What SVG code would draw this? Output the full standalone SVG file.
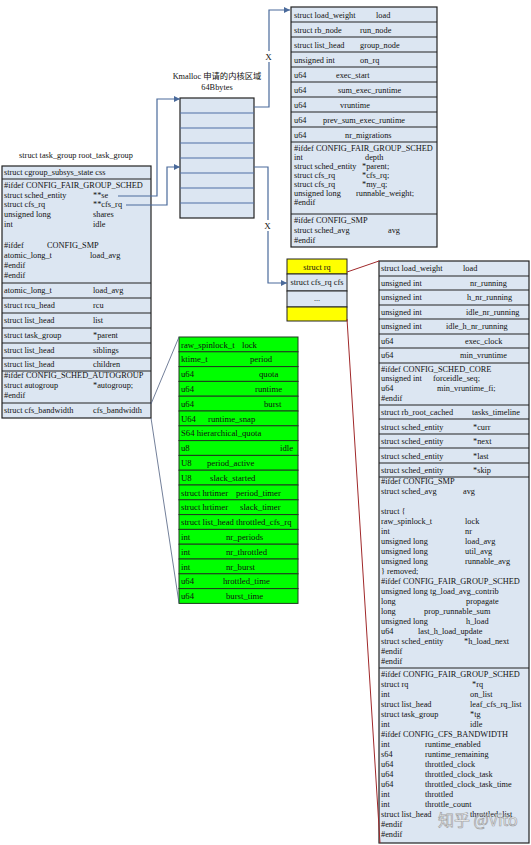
<svg xmlns="http://www.w3.org/2000/svg" width="531" height="845" viewBox="0 0 531 845">
<defs>
<marker id="arr" viewBox="0 0 10 10" refX="10" refY="5" markerWidth="6" markerHeight="6" orient="auto" markerUnits="userSpaceOnUse"><path d="M0,0 L10,5 L0,10 z" fill="#4a6a9b"/></marker>
<style>
text{font-family:"Liberation Serif","Times New Roman","Noto Sans CJK SC",serif;font-size:8.3px;fill:#111}
.box{fill:#dce6f2;stroke:#222;stroke-width:1.2}
.sep{stroke:#222;stroke-width:1}
.ksep{stroke:#4f6fa5;stroke-width:1}
.conn{fill:none;stroke:#4a6a9b;stroke-width:1.2}
.red{fill:none;stroke:#a0282a;stroke-width:1}
.diag{fill:none;stroke:#4f5f80;stroke-width:0.8}
.green{fill:#00ff00;stroke:#1e3a1e;stroke-width:1}
.gt{font-size:8.7px}
.yel{fill:#ffff00;stroke:#222;stroke-width:1}
.xl{fill:#fff}
.c{text-anchor:middle}
.wm{font-family:"Noto Sans CJK SC","Liberation Sans",sans-serif;font-size:16px;fill:#fff;stroke:#999;stroke-width:0.7;opacity:0.9}
</style>
</defs>

<g id="root_task_group">
<text x="76" y="158" class="c">struct task_group root_task_group</text>
<rect class="box" x="2" y="166" width="149" height="252"/>
<path class="sep" d="M2,179H151M2,283H151M2,298H151M2,313H151M2,328H151M2,343H151M2,358H151M2,371H151M2,403H151"/>
<text x="4" y="175">struct cgroup_subsys_state css</text>
<text x="4" y="188">#ifdef CONFIG_FAIR_GROUP_SCHED</text>
<text x="4" y="198">struct sched_entity</text><text x="93" y="198">**se</text>
<text x="4" y="207">struct cfs_rq</text><text x="93" y="207">**cfs_rq</text>
<text x="4" y="217">unsigned long</text><text x="93" y="217">shares</text>
<text x="4" y="227">int</text><text x="93" y="227">idle</text>
<text x="4" y="248">#ifdef</text><text x="47" y="248">CONFIG_SMP</text>
<text x="4" y="258">atomic_long_t</text><text x="90" y="258">load_avg</text>
<text x="4" y="268">#endif</text>
<text x="4" y="278">#endif</text>
<text x="4" y="293">atomic_long_t</text><text x="93" y="293">load_avg</text>
<text x="4" y="308">struct rcu_head</text><text x="93" y="308">rcu</text>
<text x="4" y="323">struct list_head</text><text x="93" y="323">list</text>
<text x="4" y="338">struct task_group</text><text x="93" y="338">*parent</text>
<text x="4" y="353">struct list_head</text><text x="93" y="353">siblings</text>
<text x="4" y="367">struct list_head</text><text x="93" y="367">children</text>
<text x="4" y="378">#ifdef CONFIG_SCHED_AUTOGROUP</text>
<text x="4" y="388">struct autogroup</text><text x="93" y="388">*autogroup;</text>
<text x="4" y="398">#endif</text>
<text x="4" y="413">struct cfs_bandwidth</text><text x="93" y="413">cfs_bandwidth</text>
</g>

<g id="kmalloc">
<text x="217" y="79" class="c">Kmalloc 申请的内核区域</text>
<text x="217" y="90" class="c">64Bbytes</text>
<rect class="box" x="180" y="98" width="74" height="120"/>
<path class="ksep" d="M180,113H254M180,128H254M180,143H254M180,158H254M180,173H254M180,188H254M180,203H254"/>
</g>

<g id="sched_entity">
<rect class="box" x="291" y="7" width="146" height="240"/>
<path class="sep" d="M291,22H437M291,37H437M291,52H437M291,67H437M291,82H437M291,97H437M291,112H437M291,127H437M291,142H437M291,214H437"/>
<text x="294" y="18">struct load_weight</text><text x="376" y="18">load</text>
<text x="294" y="33">struct rb_node</text><text x="360" y="33">run_node</text>
<text x="294" y="48">struct list_head</text><text x="360" y="48">group_node</text>
<text x="294" y="63">unsigned int</text><text x="360" y="63">on_rq</text>
<text x="294" y="78">u64</text><text x="336" y="78">exec_start</text>
<text x="294" y="93">u64</text><text x="338" y="93">sum_exec_runtime</text>
<text x="294" y="108">u64</text><text x="340" y="108">vruntime</text>
<text x="294" y="123">u64</text><text x="323" y="123">prev_sum_exec_runtime</text>
<text x="294" y="138">u64</text><text x="345" y="138">nr_migrations</text>
<text x="294" y="151">#ifdef CONFIG_FAIR_GROUP_SCHED</text>
<text x="294" y="160">int</text><text x="365" y="160">depth</text>
<text x="294" y="169">struct sched_entity</text><text x="362" y="169">*parent;</text>
<text x="294" y="178">struct cfs_rq</text><text x="362" y="178">*cfs_rq;</text>
<text x="294" y="187">struct cfs_rq</text><text x="362" y="187">*my_q;</text>
<text x="294" y="196">unsigned long</text><text x="356" y="196">runnable_weight;</text>
<text x="294" y="205">#endif</text>
<text x="294" y="223">#ifdef CONFIG_SMP</text>
<text x="294" y="233">struct sched_avg</text><text x="388" y="233">avg</text>
<text x="294" y="243">#endif</text>
</g>

<g id="rq">
<rect class="yel" x="287" y="259" width="60" height="15"/>
<rect class="box" x="287" y="274" width="60" height="17" style="stroke-width:1"/>
<rect class="box" x="287" y="291" width="60" height="16" style="stroke-width:1"/>
<rect class="yel" x="287" y="307" width="60" height="14"/>
<text x="317" y="270" class="c">struct rq</text>
<text x="317" y="285" class="c">struct cfs_rq cfs</text>
<text x="317" y="301" class="c">...</text>
</g>

<g id="cfs_rq">
<rect class="box" x="379" y="261" width="150" height="582"/>
<path class="sep" d="M379,276H529M379,290H529M379,305H529M379,319H529M379,334H529M379,348H529M379,363H529M379,405H529M379,419H529M379,434H529M379,448H529M379,463H529M379,477H529M379,668H529"/>
<text x="381" y="271">struct load_weight</text><text x="463" y="271">load</text>
<text x="381" y="286">unsigned int</text><text x="470" y="286">nr_running</text>
<text x="381" y="300">unsigned int</text><text x="467" y="300">h_nr_running</text>
<text x="381" y="315">unsigned int</text><text x="466" y="315">idle_nr_running</text>
<text x="381" y="329">unsigned int</text><text x="446" y="329">idle_h_nr_running</text>
<text x="381" y="344">u64</text><text x="465" y="344">exec_clock</text>
<text x="381" y="358">u64</text><text x="460" y="358">min_vruntime</text>
<text x="381" y="372">#ifdef CONFIG_SCHED_CORE</text>
<text x="381" y="381">unsigned int</text><text x="433" y="381">forceidle_seq;</text>
<text x="381" y="391">u64</text><text x="437" y="391">min_vruntime_fi;</text>
<text x="381" y="401">#endif</text>
<text x="381" y="415">struct rb_root_cached</text><text x="472" y="415">tasks_timeline</text>
<text x="381" y="430">struct sched_entity</text><text x="473" y="430">*curr</text>
<text x="381" y="444">struct sched_entity</text><text x="473" y="444">*next</text>
<text x="381" y="459">struct sched_entity</text><text x="473" y="459">*last</text>
<text x="381" y="473">struct sched_entity</text><text x="473" y="473">*skip</text>
<text x="381" y="484">#ifdef CONFIG_SMP</text>
<text x="381" y="494">struct sched_avg</text><text x="463" y="494">avg</text>
<text x="381" y="514">struct {</text>
<text x="381" y="524">raw_spinlock_t</text><text x="465" y="524">lock</text>
<text x="381" y="534">int</text><text x="465" y="534">nr</text>
<text x="381" y="544">unsigned long</text><text x="465" y="544">load_avg</text>
<text x="381" y="554">unsigned long</text><text x="465" y="554">util_avg</text>
<text x="381" y="564">unsigned long</text><text x="465" y="564">runnable_avg</text>
<text x="381" y="574">} removed;</text>
<text x="381" y="584">#ifdef CONFIG_FAIR_GROUP_SCHED</text>
<text x="381" y="594">unsigned long</text><text x="430" y="594">tg_load_avg_contrib</text>
<text x="381" y="604">long</text><text x="466" y="604">propagate</text>
<text x="381" y="614">long</text><text x="424" y="614">prop_runnable_sum</text>
<text x="381" y="624">unsigned long</text><text x="466" y="624">h_load</text>
<text x="381" y="634">u64</text><text x="418" y="634">last_h_load_update</text>
<text x="381" y="644">struct sched_entity</text><text x="464" y="644">*h_load_next</text>
<text x="381" y="654">#endif</text>
<text x="381" y="664">#endif</text>
<text x="381" y="677">#ifdef CONFIG_FAIR_GROUP_SCHED</text>
<text x="381" y="687">struct rq</text><text x="472" y="687">*rq</text>
<text x="381" y="697">int</text><text x="470" y="697">on_list</text>
<text x="381" y="707">struct list_head</text><text x="470" y="707">leaf_cfs_rq_list</text>
<text x="381" y="717">struct task_group</text><text x="470" y="717">*tg</text>
<text x="381" y="727">int</text><text x="470" y="727">idle</text>
<text x="381" y="737">#ifdef CONFIG_CFS_BANDWIDTH</text>
<text x="381" y="747">int</text><text x="425" y="747">runtime_enabled</text>
<text x="381" y="757">s64</text><text x="425" y="757">runtime_remaining</text>
<text x="381" y="767">u64</text><text x="425" y="767">throttled_clock</text>
<text x="381" y="777">u64</text><text x="425" y="777">throttled_clock_task</text>
<text x="381" y="787">u64</text><text x="425" y="787">throttled_clock_task_time</text>
<text x="381" y="797">int</text><text x="425" y="797">throttled</text>
<text x="381" y="807">int</text><text x="425" y="807">throttle_count</text>
<text x="381" y="817">struct list_head</text><text x="470" y="817">throttled_list</text>
<text x="381" y="827">#endif</text>
<text x="381" y="837">#endif</text>
</g>

<g id="cfs_bandwidth">
<rect class="green" x="179" y="337" width="119" height="14.8"/>
<rect class="green" x="179" y="351.8" width="119" height="14.8"/>
<rect class="green" x="179" y="366.6" width="119" height="14.8"/>
<rect class="green" x="179" y="381.4" width="119" height="14.8"/>
<rect class="green" x="179" y="396.2" width="119" height="14.8"/>
<rect class="green" x="179" y="411" width="119" height="14.8"/>
<rect class="green" x="179" y="425.8" width="119" height="14.8"/>
<rect class="green" x="179" y="440.6" width="119" height="14.8"/>
<rect class="green" x="179" y="455.4" width="119" height="14.8"/>
<rect class="green" x="179" y="470.2" width="119" height="14.8"/>
<rect class="green" x="179" y="485" width="119" height="14.8"/>
<rect class="green" x="179" y="499.8" width="119" height="14.8"/>
<rect class="green" x="179" y="514.6" width="119" height="14.8"/>
<rect class="green" x="179" y="529.4" width="119" height="14.8"/>
<rect class="green" x="179" y="544.2" width="119" height="14.8"/>
<rect class="green" x="179" y="559" width="119" height="14.8"/>
<rect class="green" x="179" y="573.8" width="119" height="14.8"/>
<rect class="green" x="179" y="588.6" width="119" height="14.8"/>
<text class="gt" x="181" y="347.5">raw_spinlock_t</text><text class="gt" x="242" y="347.5">lock</text>
<text class="gt" x="181" y="362.3">ktime_t</text><text class="gt" x="250" y="362.3">period</text>
<text class="gt" x="181" y="377.1">u64</text><text class="gt" x="259" y="377.1">quota</text>
<text class="gt" x="181" y="391.9">u64</text><text class="gt" x="255" y="391.9">runtime</text>
<text class="gt" x="181" y="406.7">u64</text><text class="gt" x="264" y="406.7">burst</text>
<text class="gt" x="181" y="421.5">U64</text><text class="gt" x="208" y="421.5">runtime_snap</text>
<text class="gt" x="181" y="436.3">S64 hierarchical_quota</text>
<text class="gt" x="181" y="451.1">u8</text><text class="gt" x="280" y="451.1">idle</text>
<text class="gt" x="181" y="465.9">U8</text><text class="gt" x="207" y="465.9">period_active</text>
<text class="gt" x="181" y="480.7">U8</text><text class="gt" x="210" y="480.7">slack_started</text>
<text class="gt" x="181" y="495.5">struct hrtimer</text><text class="gt" x="236" y="495.5">period_timer</text>
<text class="gt" x="181" y="510.3">struct hrtimer</text><text class="gt" x="240" y="510.3">slack_timer</text>
<text class="gt" x="181" y="525.1">struct list_head</text><text class="gt" x="236" y="525.1">throttled_cfs_rq</text>
<text class="gt" x="181" y="539.9">int</text><text class="gt" x="226" y="539.9">nr_periods</text>
<text class="gt" x="181" y="554.7">int</text><text class="gt" x="226" y="554.7">nr_throttled</text>
<text class="gt" x="181" y="569.5">int</text><text class="gt" x="226" y="569.5">nr_burst</text>
<text class="gt" x="181" y="584.3">u64</text><text class="gt" x="223" y="584.3">hrottled_time</text>
<text class="gt" x="181" y="599.1">u64</text><text class="gt" x="226" y="599.1">burst_time</text>
</g>

<g id="connectors">
<path class="conn" d="M118,196H157V99H180" marker-end="url(#arr)"/>
<path class="conn" d="M126,205H167V167H180" marker-end="url(#arr)"/>
<path class="conn" d="M254,107H269V10H290" marker-end="url(#arr)"/>
<path class="conn" d="M254,167H268V283H287" marker-end="url(#arr)"/>
<rect class="xl" x="264" y="51" width="9" height="11"/>
<text x="268.5" y="60" class="c" style="font-size:9px">X</text>
<rect class="xl" x="263" y="220" width="9" height="11"/>
<text x="267.5" y="229" class="c" style="font-size:9px">X</text>
<path class="red" d="M347,272L379,261M347,319L380,843"/>
<path class="diag" d="M151,404L179,337M151,418L179,603"/>
</g>

<text class="wm" x="438" y="826">知乎 @Vito</text>
</svg>
